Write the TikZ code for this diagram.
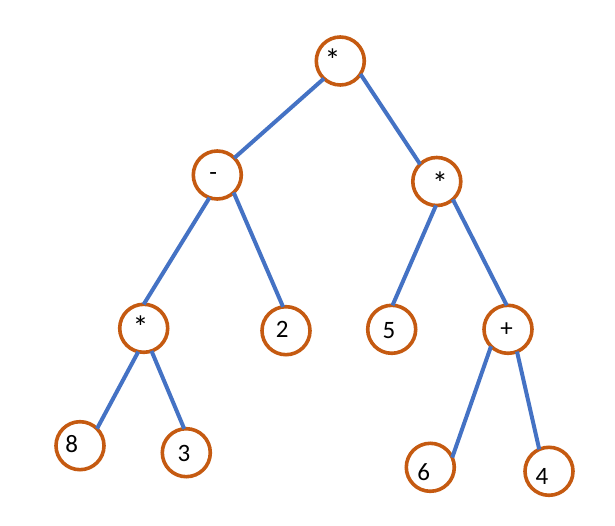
\documentclass[tikz,border=0pt]{standalone}
\usepackage{fontspec}
\setmainfont{Carlito}
\definecolor{ringc}{HTML}{C55A11}
\definecolor{edgec}{HTML}{4472C4}
\begin{document}
\begin{tikzpicture}[x=1pt,y=-1pt,
  ring/.style={circle, draw=ringc, line width=3.6pt, minimum size=48pt, inner sep=0pt, outer sep=0pt},
  lab/.style={anchor=base, font=\fontsize{25}{30}\selectfont, inner sep=0pt},
  star/.style={anchor=base, font=\fontsize{32}{36}\selectfont, inner sep=0pt},
  edge/.style={draw=edgec, line width=4pt}]
\useasboundingbox (0,0) rectangle (615,526);
% circles
\node[ring] (R) at (340.3,61) {};
\node[ring] (M) at (217.3,175) {};
\node[ring] (S) at (436.8,181.5) {};
\node[ring] (L) at (143.7,328.3) {};
\node[ring] (T) at (286,330.7) {};
\node[ring] (F) at (391.7,329.3) {};
\node[ring] (P) at (508,329.3) {};
\node[ring] (E) at (80,445.7) {};
\node[ring] (H) at (186.3,452.7) {};
\node[ring] (X) at (430.3,467.3) {};
\node[ring] (Q) at (549,471.3) {};
% labels
\node[star] (tR) at (332.7,72) {*};
\node[lab] (tM) at (213.3,181) {-};
\node[star] (tS) at (440,194.8) {*};
\node[star] (tL) at (140.7,338) {*};
\node[lab] (tT) at (282.3,337) {2};
\node[lab] (tF) at (389,338) {5};
\node[lab] (tP) at (506.7,336) {+};
\node[lab] (tE) at (71.7,452) {8};
\node[lab] (tH) at (184,461) {3};
\node[lab] (tX) at (423.7,480) {6};
\node[lab] (tQ) at (542,484) {4};
% edges
\draw[edge] (R.227) -- (M.45);
\draw[edge] (R.327) -- (S.134);
\draw[edge] (M.251) -- (L.90);
\draw[edge] (M.313) -- (T.97);
\draw[edge] (S.268) -- (F.88);
\draw[edge] (S.312) -- (P.93);
\draw[edge] (L.257) -- (E.45);
\draw[edge] (L.289) -- (H.95);
\draw[edge] (P.225) -- (X.24);
\draw[edge] (P.292) -- (Q.114);
\end{tikzpicture}
\end{document}
